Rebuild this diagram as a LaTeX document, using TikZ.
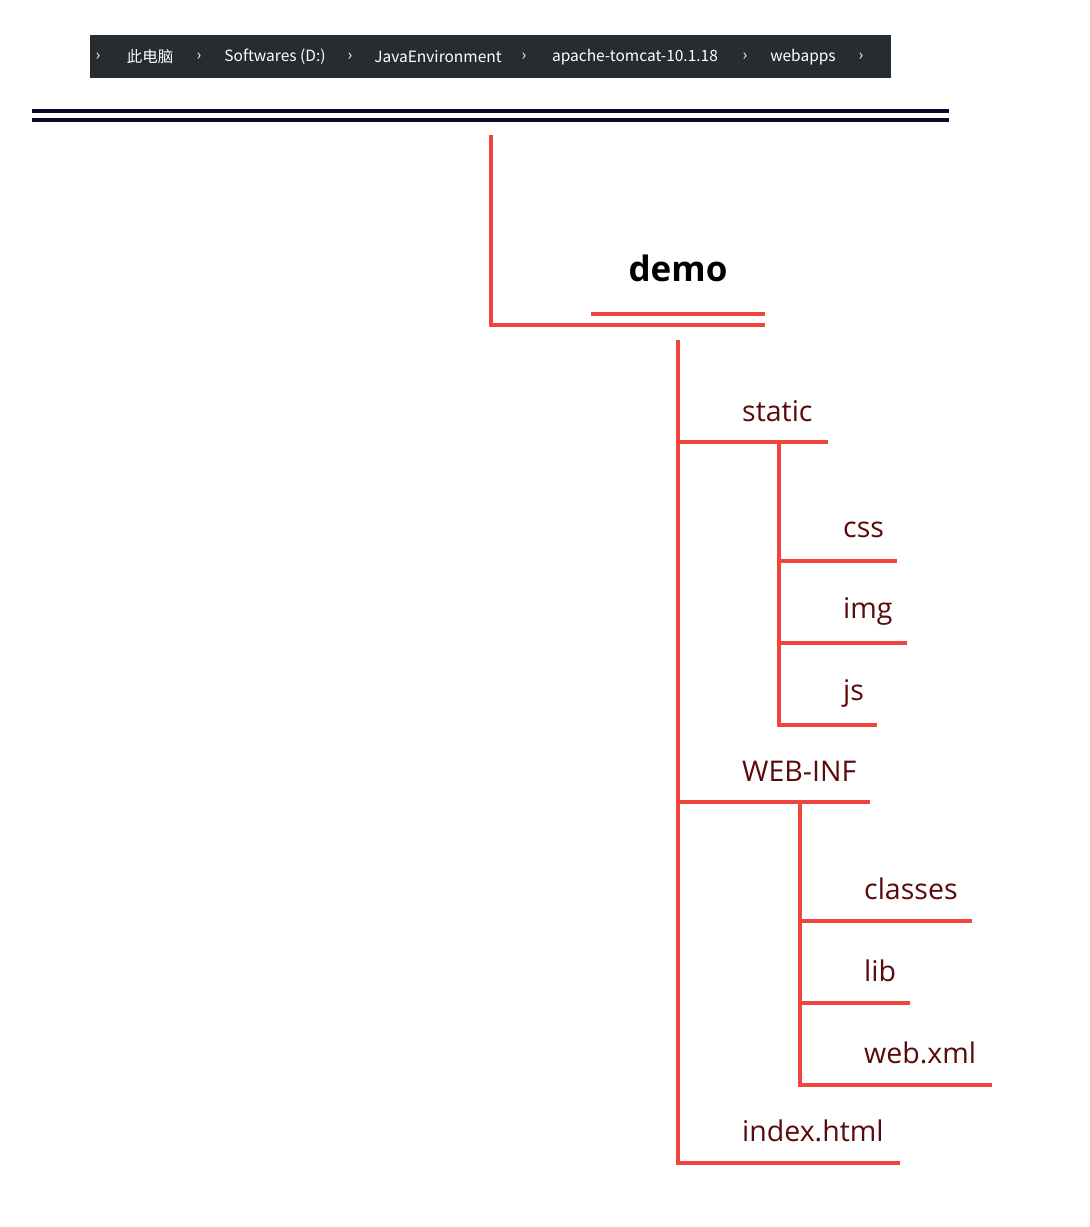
\documentclass[tikz,border=0pt]{standalone}
\usepackage{fontspec}
\setmainfont{Open Sans}
\newfontfamily\cjk{Noto Sans CJK SC}
\begin{document}
\begin{tikzpicture}[x=1pt,y=-1pt,
  red/.style={draw={rgb,255:red,240;green,68;blue,60},line width=3.2pt},
  lbl/.style={anchor=west,inner sep=0pt,text={rgb,255:red,90;green,10;blue,10},font=\fontsize{28.5}{31}\selectfont},
  crumb/.style={text=white,inner sep=0pt,font=\cjk\fontsize{15.5}{17}\selectfont}]
\useasboundingbox (0,0) rectangle (1090,1227);
\fill[fill={rgb,255:red,39;green,44;blue,48}] (90,35) rectangle (891,78);
\foreach \x/\t in {98/›,150/此电脑,199/›,275/Softwares (D:),350/›,438/JavaEnvironment,524/›,635/apache-tomcat-10.1.18,745/›,803/webapps,861/›}
  \node[crumb] at (\x,57) {\t};
\draw[line width=3.5pt,draw={rgb,255:red,10;green,10;blue,46}] (32,111) -- (949,111) (32,120) -- (949,120);
\node[font=\bfseries\fontsize{35}{38}\selectfont] (demo) at (678,268) {demo};
\coordinate (r0) at (491,135);
\draw[red] (r0) |- (765,325);
\draw[red] (591,314) -- (765,314);
\coordinate (d0) at (678,340);
\node[lbl] (static) at (742,411) {static};
\node[lbl] (webinf) at (742,771) {WEB-INF};
\node[lbl] (index) at (742,1131) {index.html};
\draw[red] (d0) |- (900,1163);
\draw[red] (678,442) -- (828,442);
\draw[red] (678,802) -- (870,802);
\node[lbl] (css) at (843,530) {css};
\node[lbl] (img) at (843,611) {img};
\node[lbl] (js) at (843,693) {js};
\draw[red] (779,442) |- (877,725);
\draw[red] (779,561) -- (897,561);
\draw[red] (779,643) -- (907,643);
\node[lbl] (classes) at (864,889) {classes};
\node[lbl] (lib) at (864,971) {lib};
\node[lbl] (webxml) at (864,1053) {web.xml};
\draw[red] (800,802) |- (992,1085);
\draw[red] (800,921) -- (972,921);
\draw[red] (800,1003) -- (910,1003);
\end{tikzpicture}
\end{document}
